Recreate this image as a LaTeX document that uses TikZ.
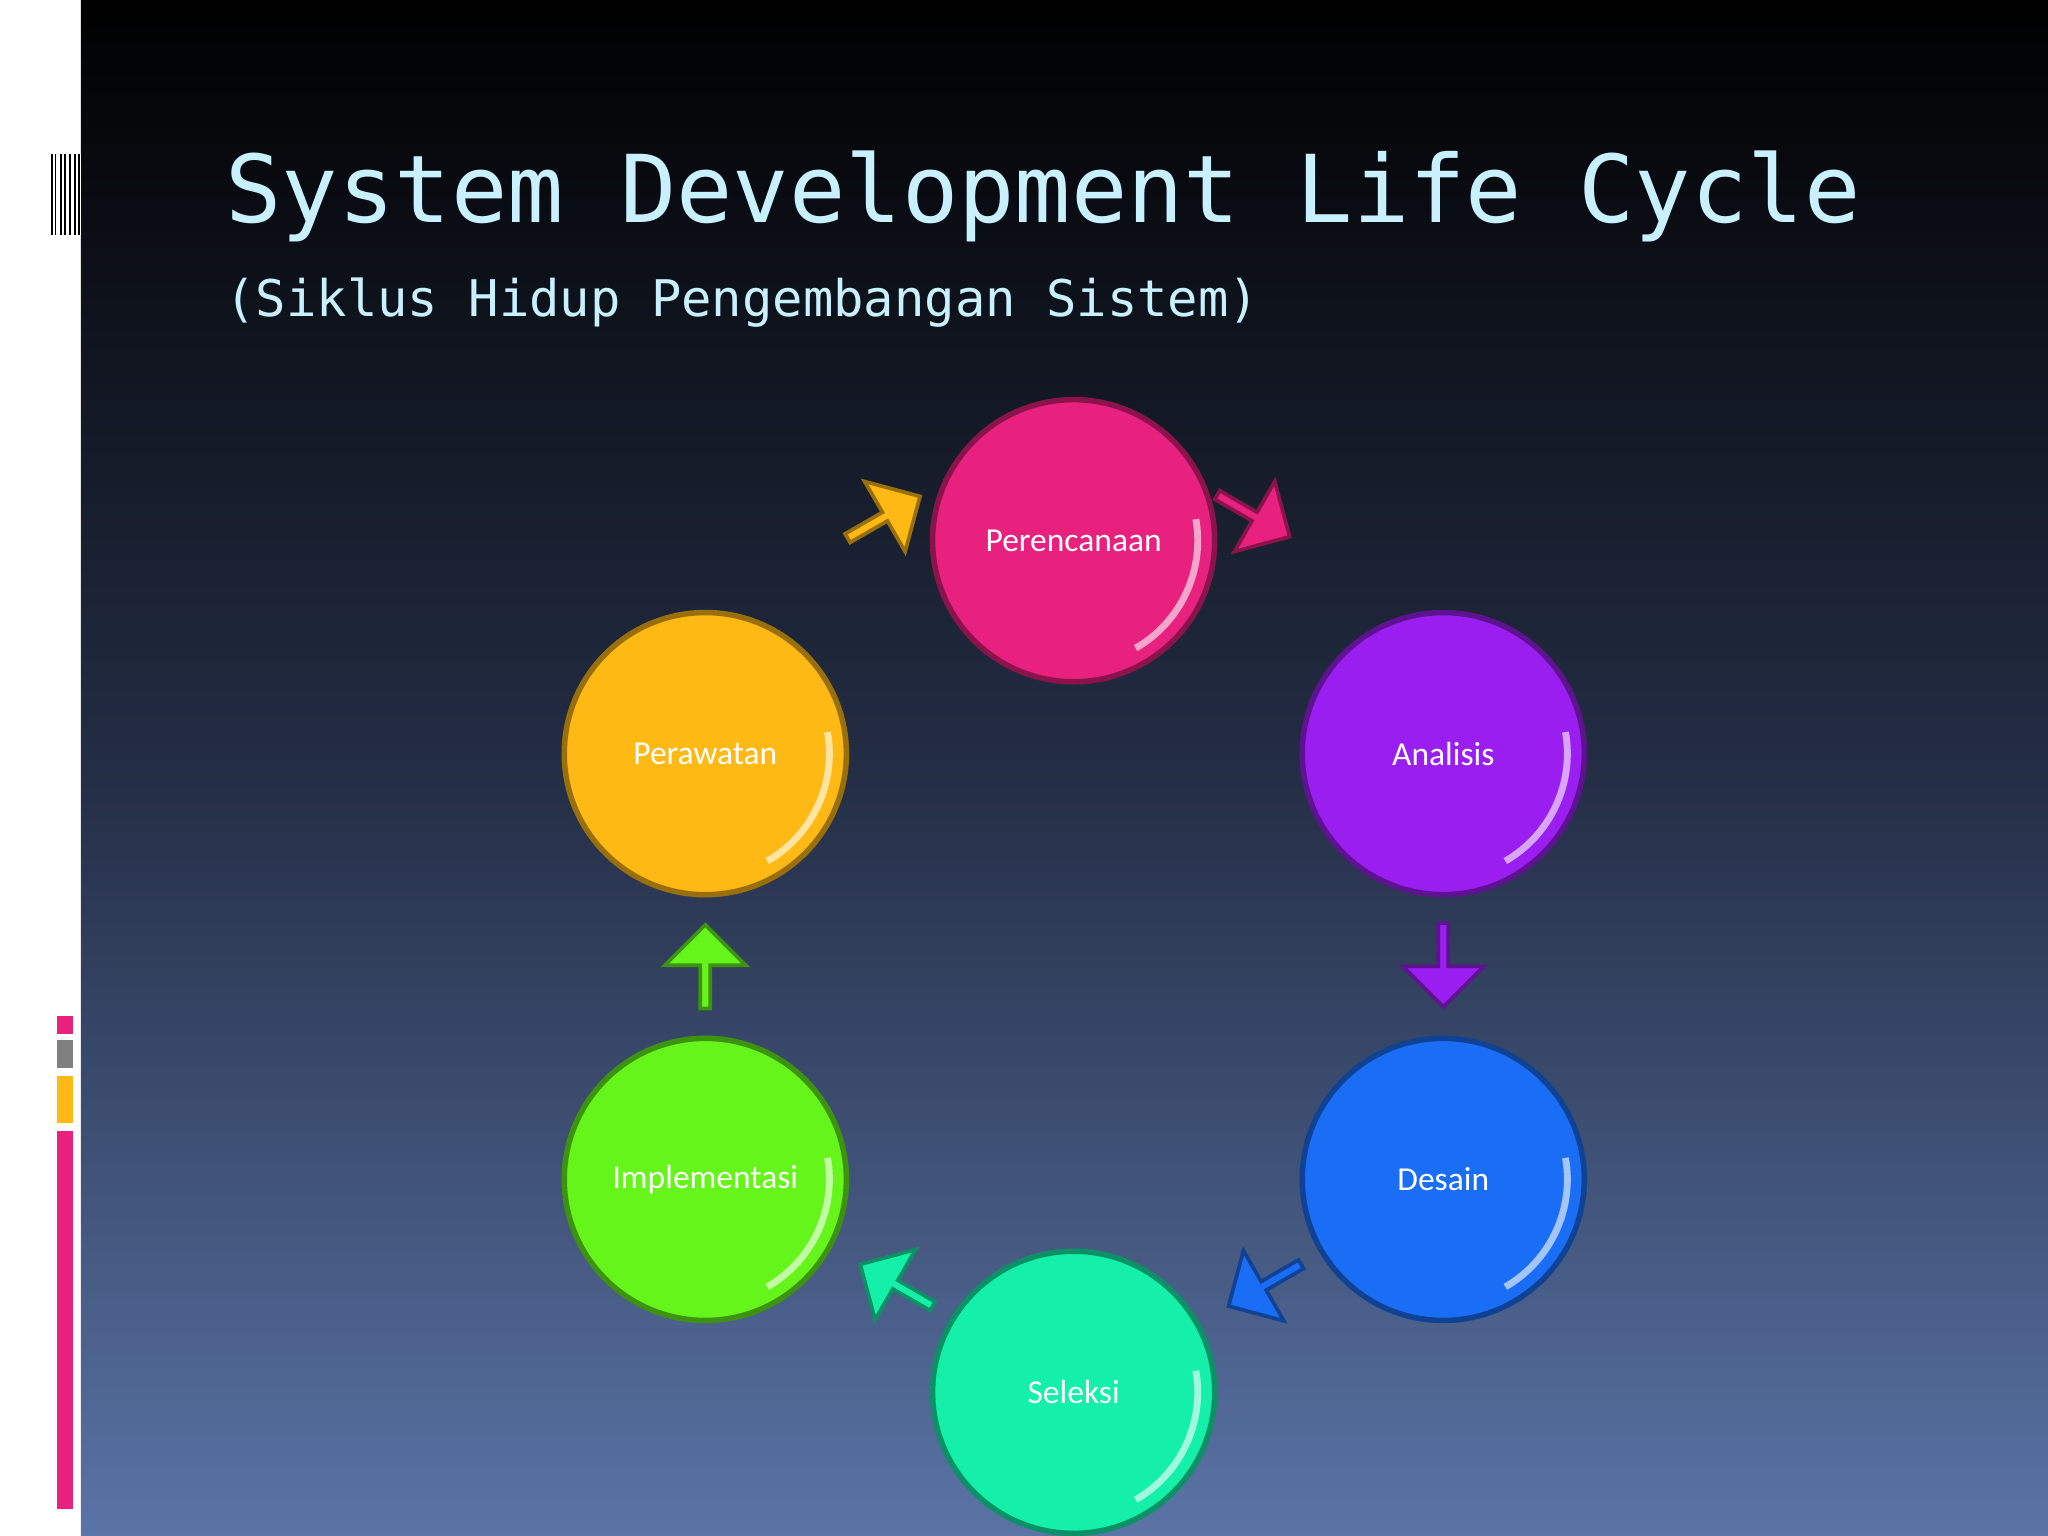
\documentclass[tikz,border=0pt]{standalone}
\usepackage{fontspec}
\setmainfont{Carlito}
\newfontfamily\monof{DejaVu Sans Mono}
\usetikzlibrary{shapes.arrows}
\definecolor{cpink}{RGB}{232,32,126}
\definecolor{cpurple}{RGB}{155,30,240}
\definecolor{cblue}{RGB}{26,110,245}
\definecolor{cteal}{RGB}{20,240,168}
\definecolor{cgreen}{RGB}{102,245,26}
\definecolor{corange}{RGB}{255,185,20}
\definecolor{ctitle}{RGB}{200,240,255}
\definecolor{bgbot}{RGB}{90,116,166}
\tikzset{
 phase/.style={circle,minimum size=2.16cm,inner sep=0pt,draw=#1!60!black,line width=1.2pt,fill=#1,text=white,font=\fontsize{7.3}{8}\selectfont},
 barrow/.style={single arrow,fill=#1,draw=#1!60!black,line width=0.8pt,minimum height=0.64cm,minimum width=0.62cm,single arrow head extend=0.1cm,inner sep=0pt}
}
\begin{document}
\begin{tikzpicture}
\useasboundingbox (0,0) rectangle (15.68,11.76);
\fill[white] (0,0) rectangle (0.62,11.76);
\shade[top color=black,bottom color=bgbot,middle color={rgb,255:red,35;green,45;blue,68}] (0.62,0) rectangle (15.68,11.76);
% barcode
\fill[white] (0.37,9.96) rectangle (0.62,10.58);
\foreach \x in {0.39,0.42,0.46,0.49,0.53,0.57,0.60}{\fill[black] (\x,9.96) rectangle ++(0.012,0.62);}
\fill[cpink] (0.44,3.84) rectangle (0.56,3.98);
\fill[gray] (0.44,3.58) rectangle (0.56,3.80);
\fill[corange] (0.44,3.16) rectangle (0.56,3.52);
\fill[cpink] (0.44,0.21) rectangle (0.56,3.10);
\node[anchor=base west,text=ctitle,font=\monof\fontsize{20.4}{22}\selectfont,inner sep=0pt] (title) at (1.72,10.06) {System Development Life Cycle};
\node[anchor=base west,text=ctitle,font=\monof\fontsize{11}{12}\selectfont,inner sep=0pt] (sub) at (1.72,9.34) {(Siklus Hidup Pengembangan Sistem)};
\node[phase=cpink] (p) at (8.22,7.62) {Perencanaan};
\node[phase=cpurple] (a) at (11.05,5.99) {Analisis};
\node[phase=cblue] (d) at (11.05,2.73) {Desain};
\node[phase=cteal] (s) at (8.22,1.10) {Seleksi};
\node[phase=cgreen] (i) at (5.40,2.73) {Implementasi};
\node[phase=corange] (w) at (5.40,5.99) {Perawatan};
\foreach \n in {p,a,d,s,i,w}{
 \draw[white,opacity=0.6,line width=1.5pt] ([shift={(-60:0.95)}]\n.center) arc(-60:10:0.95);
}
\node[barrow=corange,rotate=30] (aw) at (6.75,7.79) {};
\node[barrow=cpink,rotate=-30] (ap) at (9.58,7.82) {};
\node[barrow=cpurple,rotate=-90] (aa) at (11.05,4.39) {};
\node[barrow=cblue,rotate=-150] (ad) at (9.70,1.93) {};
\node[barrow=cteal,rotate=150] (as) at (6.88,1.91) {};
\node[barrow=cgreen,rotate=90] (ai) at (5.40,4.34) {};
\end{tikzpicture}
\end{document}
